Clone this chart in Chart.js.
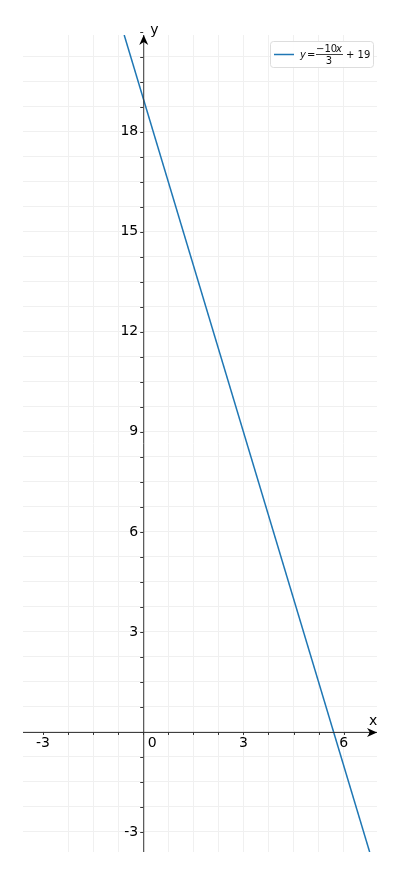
<!DOCTYPE html>
<html><head><meta charset="utf-8">
<script src="https://cdn.jsdelivr.net/npm/chart.js@4"></script>
<style>html,body{margin:0;padding:0;background:#fff}#c{display:block}</style>
</head><body><canvas id="c" width="400" height="875"></canvas>
<script>
const lineX = [-0.57, 6.78];
const lineY = lineX.map(x => -10*x/3 + 19);
const xTickLabels = [-3, 0, 3, 6];
const yTickLabels = [-3, 3, 6, 9, 12, 15, 18];
const xRange = [-3.6, 7.0];
const yRange = [-3.6, 20.9];
const gridStep = 0.75;

const isGrid = v => Math.abs(v/gridStep - Math.round(v/gridStep)) < 1e-6;

const axesPlugin = {
  id: 'axes',
  afterDatasetsDraw(chart) {
    const {ctx, scales:{x, y}, chartArea:a} = chart;
    const x0 = x.getPixelForValue(0), y0 = y.getPixelForValue(0);
    ctx.save();
    ctx.strokeStyle = '#333'; ctx.lineWidth = 1;
    ctx.beginPath();
    ctx.moveTo(a.left, y0+0.5); ctx.lineTo(a.right, y0+0.5);
    ctx.moveTo(x0+0.5, a.bottom); ctx.lineTo(x0+0.5, a.top);
    ctx.stroke();
    ctx.beginPath();
    for (let v = -3.75; v <= 7; v += gridStep) { if (v < xRange[0]) continue; const p = Math.round(x.getPixelForValue(v))+0.5; ctx.moveTo(p, y0); ctx.lineTo(p, y0+3); }
    for (let v = -3.75; v <= 21; v += gridStep) { if (v < yRange[0]) continue; const p = Math.round(y.getPixelForValue(v))+0.5; ctx.moveTo(x0, p); ctx.lineTo(x0-3, p); }
    ctx.stroke();
    ctx.fillStyle = '#000';
    ctx.beginPath(); ctx.moveTo(a.right, y0+0.5); ctx.lineTo(a.right-10, y0-4); ctx.lineTo(a.right-7, y0+0.5); ctx.lineTo(a.right-10, y0+5); ctx.closePath(); ctx.fill();
    ctx.beginPath(); ctx.moveTo(x0+0.5, a.top); ctx.lineTo(x0-4, a.top+10); ctx.lineTo(x0+0.5, a.top+7); ctx.lineTo(x0+5, a.top+10); ctx.closePath(); ctx.fill();
    ctx.font = '14px "DejaVu Sans"'; ctx.fillStyle = '#000';
    ctx.textAlign = 'left'; ctx.textBaseline = 'bottom';
    ctx.fillText('x', a.right-8, y0-4);
    ctx.fillText('y', x0+7, a.top+2);
    ctx.font = '14px "DejaVu Sans"'; ctx.fillStyle = '#000';
    ctx.textAlign = 'center'; ctx.textBaseline = 'top';
    xTickLabels.forEach(v => { const p = x.getPixelForValue(v); ctx.fillText(String(v), v === 0 ? p+9 : p, y0+4); });
    ctx.textAlign = 'right'; ctx.textBaseline = 'middle';
    yTickLabels.forEach(v => ctx.fillText(String(v), x0-5, y.getPixelForValue(v)));
    const lx = 270, ly = 41, lw = 103, lh = 26;
    ctx.fillStyle = 'rgba(255,255,255,0.9)'; ctx.strokeStyle = '#ddd';
    ctx.beginPath(); ctx.roundRect(lx+0.5, ly+0.5, lw, lh, 3); ctx.fill(); ctx.stroke();
    ctx.strokeStyle = '#1f77b4'; ctx.lineWidth = 1.5;
    ctx.beginPath(); ctx.moveTo(lx+4, ly+13.5); ctx.lineTo(lx+24, ly+13.5); ctx.stroke();
    ctx.fillStyle = '#111'; ctx.textAlign = 'left'; ctx.textBaseline = 'middle';
    ctx.font = 'italic 10px "DejaVu Sans"'; ctx.fillText('y', lx+30, ly+14);
    ctx.font = '10px "DejaVu Sans"'; ctx.fillText('=', lx+37, ly+14);
    ctx.fillText('−10', lx+46, ly+8); ctx.font = 'italic 10px "DejaVu Sans"'; ctx.fillText('x', lx+66, ly+8);
    ctx.font = '10px "DejaVu Sans"'; ctx.textAlign='center'; ctx.fillText('3', lx+59, ly+20);
    ctx.lineWidth = 0.8; ctx.strokeStyle = '#111'; ctx.beginPath(); ctx.moveTo(lx+46, ly+13.5); ctx.lineTo(lx+73, ly+13.5); ctx.stroke();
    ctx.textAlign='left'; ctx.fillText('+ 19', lx+76, ly+14);
    ctx.restore();
  }
};

new Chart(document.getElementById('c'), {
  type: 'scatter',
  data: { datasets: [{ data: lineX.map((x,i)=>({x, y: lineY[i]})), showLine: true, borderColor: '#1f77b4', borderWidth: 1.5, pointRadius: 0, fill: false }] },
  options: {
    responsive: false, animation: false,
    layout: { padding: { left: 23, right: 23, top: 35, bottom: 23 } },
    plugins: { legend: { display: false }, tooltip: { enabled: false } },
    scales: {
      x: { type: 'linear', min: xRange[0], max: xRange[1], border: { display: false },
           ticks: { display: false, stepSize: gridStep },
           grid: { drawTicks: false, color: c => isGrid(c.tick.value) ? '#f0f0f0' : 'transparent' } },
      y: { type: 'linear', min: yRange[0], max: yRange[1], border: { display: false },
           ticks: { display: false, stepSize: gridStep },
           grid: { drawTicks: false, color: c => isGrid(c.tick.value) ? '#f0f0f0' : 'transparent' } }
    }
  },
  plugins: [axesPlugin]
});
</script></body></html>
